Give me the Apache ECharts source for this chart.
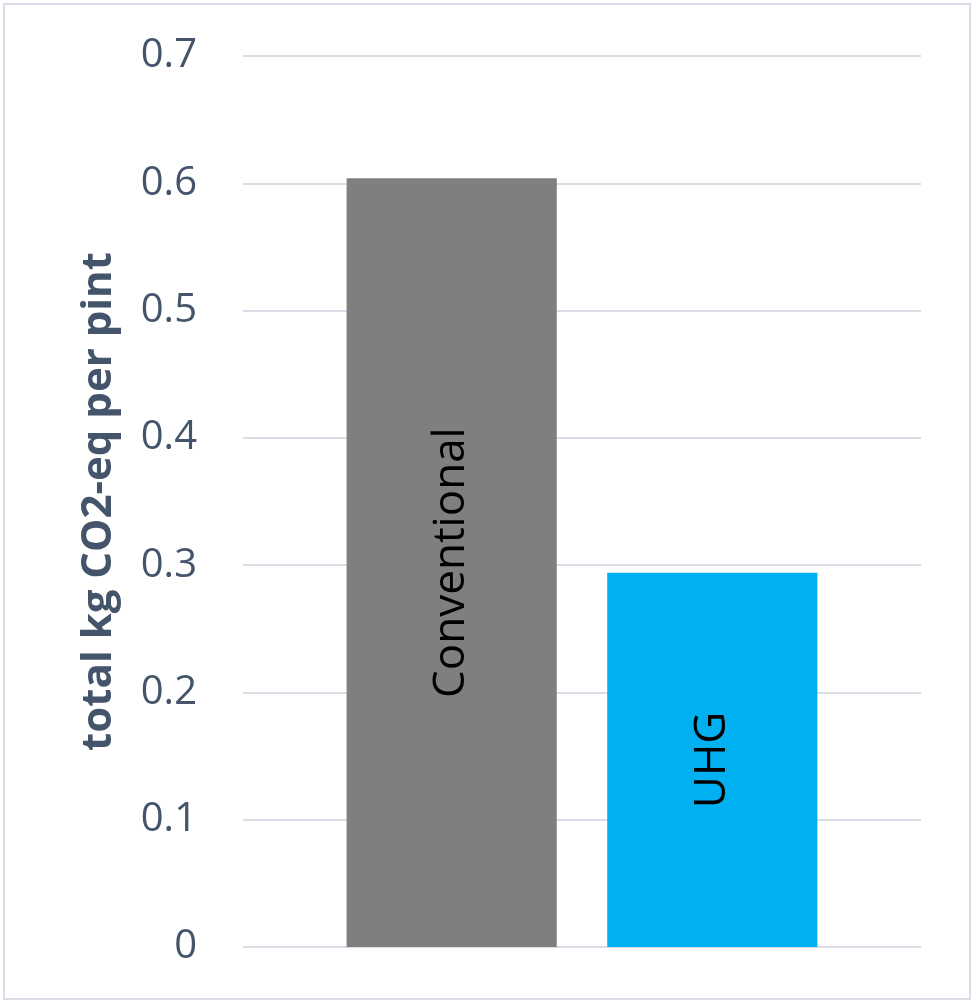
<!DOCTYPE html>
<html>
<head>
<meta charset="utf-8">
<script src="https://cdn.jsdelivr.net/npm/echarts@6/dist/echarts.min.js"></script>
<style>
html,body{margin:0;padding:0;background:#fff;}
#chart{width:980px;height:1008px;}
</style>
</head>
<body>
<div id="chart"></div>
<script>
const categories = [''];
const seriesNames = ['Conventional', 'UHG'];
const seriesValues = [[0.604], [0.294]];
const seriesColors = ['#7F7F7F', '#00B0F0'];
const yTicks = { min: 0, max: 0.7, interval: 0.1 };
const yAxisTitle = 'total kg CO2-eq per pint';

const chart = echarts.init(document.getElementById('chart'));
const font = '"Open Sans", "DejaVu Sans", sans-serif';
chart.setOption({
  animation: false,
  backgroundColor: '#ffffff',
  graphic: [{
    type: 'rect',
    shape: { x: 4, y: 4, width: 966, height: 995 },
    style: { fill: 'none', stroke: '#D9DEE6', lineWidth: 2 },
    silent: true
  }],
  grid: { left: 243, right: 59, top: 56, bottom: 61 },
  xAxis: {
    type: 'category',
    data: categories,
    axisLine: { show: false },
    axisTick: { show: false },
    axisLabel: { show: false }
  },
  yAxis: {
    type: 'value',
    min: yTicks.min,
    max: yTicks.max,
    interval: yTicks.interval,
    name: yAxisTitle,
    nameLocation: 'middle',
    nameGap: 123,
    nameTextStyle: { fontFamily: font, fontWeight: 'bold', fontSize: 42, color: '#44546A' },
    axisLine: { show: false },
    axisTick: { show: false },
    axisLabel: { fontFamily: font, fontSize: 40, color: '#44546A', margin: 46,
      formatter: v => String(Math.round(v * 10) / 10) },
    splitLine: { lineStyle: { color: '#D9DEE6', width: 2 } }
  },
  series: seriesNames.map((name, i) => ({
    type: 'bar',
    name: name,
    data: seriesValues[i],
    barWidth: '31%',
    barGap: '24%',
    itemStyle: { color: seriesColors[i] },
    label: {
      show: true,
      position: 'inside',
      rotate: 90,
      formatter: '{a}',
      fontFamily: font,
      fontSize: 44,
      color: '#000000'
    }
  }))
});
</script>
</body>
</html>
